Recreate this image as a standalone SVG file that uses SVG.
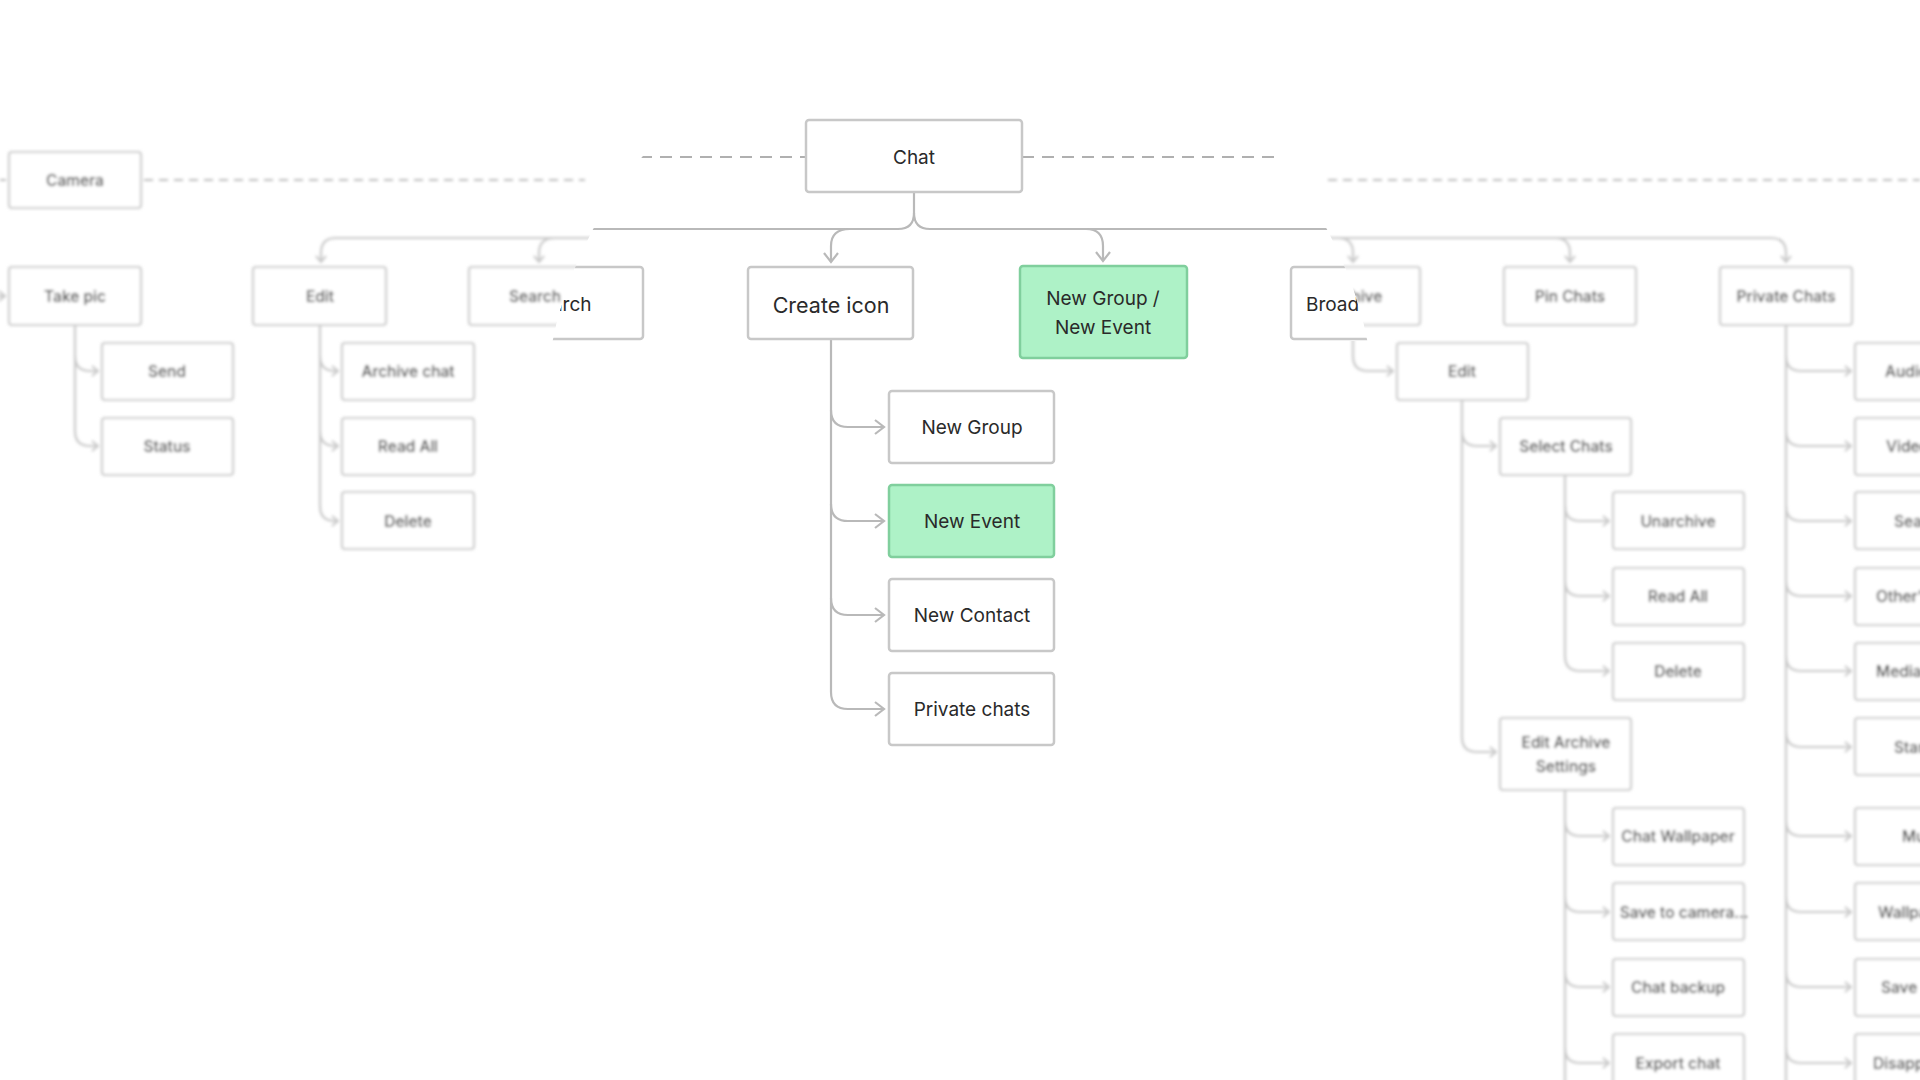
<svg xmlns="http://www.w3.org/2000/svg" width="1920" height="1080" viewBox="0 0 1920 1080">
<defs>
<style>
.bgbox{fill:#fff;stroke:#cdcdcd;stroke-width:2.2}
.bgtxt{font-family:Inter,"Noto Sans",sans-serif;font-size:15.5px;font-weight:500;fill:#2e2e2e;text-anchor:middle;dominant-baseline:central}
.bgtxs{font-family:Inter,"Noto Sans",sans-serif;font-size:15.5px;font-weight:500;fill:#2e2e2e;dominant-baseline:central}
.bgln{fill:none;stroke:#c9c9c9;stroke-width:2.2}
.bgdash{fill:none;stroke:#bdbdbd;stroke-width:2;stroke-dasharray:9 6}
.fgbox{fill:#fff;stroke:#c8c8c8;stroke-width:2.5}
.fggreen{fill:#aef2c7;stroke:#80cf9d;stroke-width:2.5}
.fgtxt{font-family:Inter,"Noto Sans",sans-serif;font-size:19px;fill:#2a2a2a;text-anchor:middle;dominant-baseline:central}
.fgln{fill:none;stroke:#b9b9b9;stroke-width:2.2}
.fgdash{fill:none;stroke:#b0b0b0;stroke-width:2;stroke-dasharray:12 8}
</style>
<marker id="fa" markerUnits="userSpaceOnUse" viewBox="-12 -9 14 18" refX="0" refY="0" markerWidth="14" markerHeight="18" orient="auto">
<path d="M-9,-7 L0,0 L-9,7" fill="none" stroke="#b9b9b9" stroke-width="2.2"/>
</marker>
<marker id="ba" markerUnits="userSpaceOnUse" viewBox="-10 -7 12 14" refX="0" refY="0" markerWidth="12" markerHeight="14" orient="auto">
<path d="M-6,-5 L0,0 L-6,5" fill="none" stroke="#c9c9c9" stroke-width="2"/>
</marker>
<filter id="blur" filterUnits="userSpaceOnUse" x="-20" y="-20" width="1960" height="1120">
<feGaussianBlur stdDeviation="1.6"/>
</filter>
<clipPath id="lens">
<path d="M552.6,341 A416,416 0 0 1 1367.4,341 L1230,341 L1230,800 L700,800 L700,341 Z"/>
</clipPath>
</defs>
<rect width="1920" height="1080" fill="#fff"/>

<!-- blurred background diagram -->
<g id="background" filter="url(#blur)">
<g id="bg-connectors">
<path class="bgdash" d="M0,180 H6"/>
<path class="bgdash" d="M144,180 H585"/>
<path class="bgdash" d="M1328,180 H1920"/>
<path class="bgln" d="M-10,296 H5" marker-end="url(#ba)"/>
<path class="bgln" d="M600,238 H336 Q321,238 321,253 V262" marker-end="url(#ba)"/>
<path class="bgln" d="M555,238 Q539,238 539,253 V262" marker-end="url(#ba)"/>
<path class="bgln" d="M75,325 V431 Q75,446 90,446 H98" marker-end="url(#ba)"/>
<path class="bgln" d="M75,356 Q75,371 90,371 H98" marker-end="url(#ba)"/>
<path class="bgln" d="M320,325 V506 Q320,521 335,521 H338" marker-end="url(#ba)"/>
<path class="bgln" d="M320,356 Q320,371 335,371 H338" marker-end="url(#ba)"/>
<path class="bgln" d="M320,431 Q320,446 335,446 H338" marker-end="url(#ba)"/>
<path class="bgln" d="M1320,238 H1771 Q1786,238 1786,253 V262" marker-end="url(#ba)"/>
<path class="bgln" d="M1338,238 Q1353,238 1353,253 V262" marker-end="url(#ba)"/>
<path class="bgln" d="M1555,238 Q1570,238 1570,253 V262" marker-end="url(#ba)"/>
<path class="bgln" d="M1353,325 V356 Q1353,371 1368,371 H1393" marker-end="url(#ba)"/>
<path class="bgln" d="M1462,400 V737 Q1462,752 1477,752 H1496" marker-end="url(#ba)"/>
<path class="bgln" d="M1462,431 Q1462,446 1477,446 H1496" marker-end="url(#ba)"/>
<path class="bgln" d="M1565,475 V656 Q1565,671 1580,671 H1609" marker-end="url(#ba)"/>
<path class="bgln" d="M1565,506 Q1565,521 1580,521 H1609" marker-end="url(#ba)"/>
<path class="bgln" d="M1565,581 Q1565,596 1580,596 H1609" marker-end="url(#ba)"/>
<path class="bgln" d="M1565,790 V1090"/>
<path class="bgln" d="M1565,821 Q1565,836 1580,836 H1609" marker-end="url(#ba)"/>
<path class="bgln" d="M1565,897 Q1565,912 1580,912 H1609" marker-end="url(#ba)"/>
<path class="bgln" d="M1565,972 Q1565,987 1580,987 H1609" marker-end="url(#ba)"/>
<path class="bgln" d="M1565,1048 Q1565,1063 1580,1063 H1609" marker-end="url(#ba)"/>
<path class="bgln" d="M1786,325 V1090"/>
<path class="bgln" d="M1786,356 Q1786,371 1801,371 H1851" marker-end="url(#ba)"/>
<path class="bgln" d="M1786,431 Q1786,446 1801,446 H1851" marker-end="url(#ba)"/>
<path class="bgln" d="M1786,506 Q1786,521 1801,521 H1851" marker-end="url(#ba)"/>
<path class="bgln" d="M1786,581 Q1786,596 1801,596 H1851" marker-end="url(#ba)"/>
<path class="bgln" d="M1786,656 Q1786,671 1801,671 H1851" marker-end="url(#ba)"/>
<path class="bgln" d="M1786,732 Q1786,747 1801,747 H1851" marker-end="url(#ba)"/>
<path class="bgln" d="M1786,821 Q1786,836 1801,836 H1851" marker-end="url(#ba)"/>
<path class="bgln" d="M1786,897 Q1786,912 1801,912 H1851" marker-end="url(#ba)"/>
<path class="bgln" d="M1786,972 Q1786,987 1801,987 H1851" marker-end="url(#ba)"/>
<path class="bgln" d="M1786,1048 Q1786,1063 1801,1063 H1851" marker-end="url(#ba)"/>
</g>
<g id="bg-camera"><rect class="bgbox" x="9" y="152" width="132" height="56" rx="3"/><text class="bgtxt" x="75" y="180">Camera</text></g>
<g id="bg-takepic"><rect class="bgbox" x="9" y="267" width="132" height="58" rx="3"/><text class="bgtxt" x="75" y="296">Take pic</text></g>
<g id="bg-send"><rect class="bgbox" x="102" y="343" width="131" height="57" rx="3"/><text class="bgtxt" x="167" y="371">Send</text></g>
<g id="bg-status"><rect class="bgbox" x="102" y="418" width="131" height="57" rx="3"/><text class="bgtxt" x="167" y="446">Status</text></g>
<g id="bg-edit"><rect class="bgbox" x="253" y="267" width="133" height="58" rx="3"/><text class="bgtxt" x="320" y="296">Edit</text></g>
<g id="bg-archivechat"><rect class="bgbox" x="342" y="343" width="132" height="57" rx="3"/><text class="bgtxt" x="408" y="371">Archive chat</text></g>
<g id="bg-readall"><rect class="bgbox" x="342" y="418" width="132" height="57" rx="3"/><text class="bgtxt" x="408" y="446">Read All</text></g>
<g id="bg-delete"><rect class="bgbox" x="342" y="492" width="132" height="57" rx="3"/><text class="bgtxt" x="408" y="521">Delete</text></g>
<g id="bg-search"><rect class="bgbox" x="469" y="267" width="132" height="58" rx="3"/><text class="bgtxt" x="535" y="296">Search</text></g>
<g id="bg-archive"><rect class="bgbox" x="1288" y="267" width="132" height="58" rx="3"/><text class="bgtxt" x="1354" y="296">Archive</text></g>
<g id="bg-pinchats"><rect class="bgbox" x="1504" y="267" width="132" height="58" rx="3"/><text class="bgtxt" x="1570" y="296">Pin Chats</text></g>
<g id="bg-privatechats"><rect class="bgbox" x="1720" y="267" width="132" height="58" rx="3"/><text class="bgtxt" x="1786" y="296">Private Chats</text></g>
<g id="bg-edit2"><rect class="bgbox" x="1397" y="343" width="131" height="57" rx="3"/><text class="bgtxt" x="1462" y="371">Edit</text></g>
<g id="bg-selectchats"><rect class="bgbox" x="1500" y="418" width="131" height="57" rx="3"/><text class="bgtxt" x="1566" y="446">Select Chats</text></g>
<g id="bg-unarchive"><rect class="bgbox" x="1613" y="492" width="131" height="57" rx="3"/><text class="bgtxt" x="1678" y="521">Unarchive</text></g>
<g id="bg-readall2"><rect class="bgbox" x="1613" y="568" width="131" height="57" rx="3"/><text class="bgtxt" x="1678" y="596">Read All</text></g>
<g id="bg-delete2"><rect class="bgbox" x="1613" y="643" width="131" height="57" rx="3"/><text class="bgtxt" x="1678" y="671">Delete</text></g>
<g id="bg-editarchive"><rect class="bgbox" x="1500" y="718" width="131" height="72" rx="3"/><text class="bgtxt" x="1566" y="742">Edit Archive</text><text class="bgtxt" x="1566" y="766">Settings</text></g>
<g id="bg-wallpaper"><rect class="bgbox" x="1613" y="808" width="131" height="57" rx="3"/><text class="bgtxt" x="1678" y="836">Chat Wallpaper</text></g>
<g id="bg-savecam"><rect class="bgbox" x="1613" y="883" width="131" height="57" rx="3"/><text class="bgtxt" x="1684" y="912">Save to camera...</text></g>
<g id="bg-backup"><rect class="bgbox" x="1613" y="959" width="131" height="57" rx="3"/><text class="bgtxt" x="1678" y="987">Chat backup</text></g>
<g id="bg-export"><rect class="bgbox" x="1613" y="1034" width="131" height="57" rx="3"/><text class="bgtxt" x="1678" y="1063">Export chat</text></g>
<g id="bg-audio"><rect class="bgbox" x="1855" y="343" width="132" height="57" rx="3"/><text class="bgtxs" x="1885" y="371">Audio</text></g>
<g id="bg-video"><rect class="bgbox" x="1855" y="418" width="132" height="57" rx="3"/><text class="bgtxs" x="1886" y="446">Video</text></g>
<g id="bg-search2"><rect class="bgbox" x="1855" y="492" width="132" height="57" rx="3"/><text class="bgtxs" x="1894" y="521">Search</text></g>
<g id="bg-others"><rect class="bgbox" x="1855" y="568" width="132" height="57" rx="3"/><text class="bgtxs" x="1876" y="596">Other's</text></g>
<g id="bg-media"><rect class="bgbox" x="1855" y="643" width="132" height="57" rx="3"/><text class="bgtxs" x="1876" y="671">Media</text></g>
<g id="bg-starred"><rect class="bgbox" x="1855" y="718" width="132" height="57" rx="3"/><text class="bgtxs" x="1894" y="747">Starred</text></g>
<g id="bg-mute"><rect class="bgbox" x="1855" y="808" width="132" height="57" rx="3"/><text class="bgtxs" x="1902" y="836">Mute</text></g>
<g id="bg-wallp"><rect class="bgbox" x="1855" y="883" width="132" height="57" rx="3"/><text class="bgtxs" x="1878" y="912">Wallpaper</text></g>
<g id="bg-save"><rect class="bgbox" x="1855" y="959" width="132" height="57" rx="3"/><text class="bgtxs" x="1881" y="987">Save</text></g>
<g id="bg-disapp"><rect class="bgbox" x="1855" y="1034" width="132" height="57" rx="3"/><text class="bgtxs" x="1873" y="1063">Disappearing</text></g>
</g>

<!-- sharp lens view -->
<path d="M552.6,341 A416,416 0 0 1 1367.4,341 L1230,341 L1230,800 L700,800 L700,341 Z" fill="#fff"/>
<g id="lens-view" clip-path="url(#lens)">
<g id="connectors">
<path class="fgdash" d="M600,157 H806"/>
<path class="fgdash" d="M1022,157 H1320"/>
<path class="fgln" d="M914,192 V213 Q914,229 898,229 H540"/>
<path class="fgln" d="M914,213 Q914,229 930,229 H1380"/>
<path class="fgln" d="M850,229 Q831,229 831,246 V262" marker-end="url(#fa)"/>
<path class="fgln" d="M1086,229 Q1103,229 1103,246 V261" marker-end="url(#fa)"/>
<path class="fgln" d="M831,339 V692 Q831,709 848,709 H884" marker-end="url(#fa)"/>
<path class="fgln" d="M831,410 Q831,427 848,427 H884" marker-end="url(#fa)"/>
<path class="fgln" d="M831,504 Q831,521 848,521 H884" marker-end="url(#fa)"/>
<path class="fgln" d="M831,598 Q831,615 848,615 H884" marker-end="url(#fa)"/>
</g>
<g id="node-chat"><rect class="fgbox" x="806" y="120" width="216" height="72" rx="3"/><text class="fgtxt" x="914" y="157">Chat</text></g>
<g id="node-search"><rect class="fgbox" x="478" y="267" width="165" height="72" rx="3"/><text class="fgtxt" x="560" y="304">Search</text></g>
<g id="node-create"><rect class="fgbox" x="748" y="267" width="165" height="72" rx="3"/><text class="fgtxt" x="831" y="305" style="font-size:21.5px">Create icon</text></g>
<g id="node-newgroup-event"><rect class="fggreen" x="1020" y="266" width="167" height="92" rx="3"/><text class="fgtxt" x="1103" y="298">New Group /</text><text class="fgtxt" x="1103" y="327">New Event</text></g>
<g id="node-broad"><rect class="fgbox" x="1291" y="267" width="165" height="72" rx="3"/><text class="fgtxt" x="1306" y="304" style="text-anchor:start">Broadcast</text></g>
<g id="node-newgroup"><rect class="fgbox" x="889" y="391" width="165" height="72" rx="3"/><text class="fgtxt" x="972" y="427">New Group</text></g>
<g id="node-newevent"><rect class="fggreen" x="889" y="485" width="165" height="72" rx="3"/><text class="fgtxt" x="972" y="521">New Event</text></g>
<g id="node-newcontact"><rect class="fgbox" x="889" y="579" width="165" height="72" rx="3"/><text class="fgtxt" x="972" y="615">New Contact</text></g>
<g id="node-privatechats"><rect class="fgbox" x="889" y="673" width="165" height="72" rx="3"/><text class="fgtxt" x="972" y="709">Private chats</text></g>
</g>
</svg>
